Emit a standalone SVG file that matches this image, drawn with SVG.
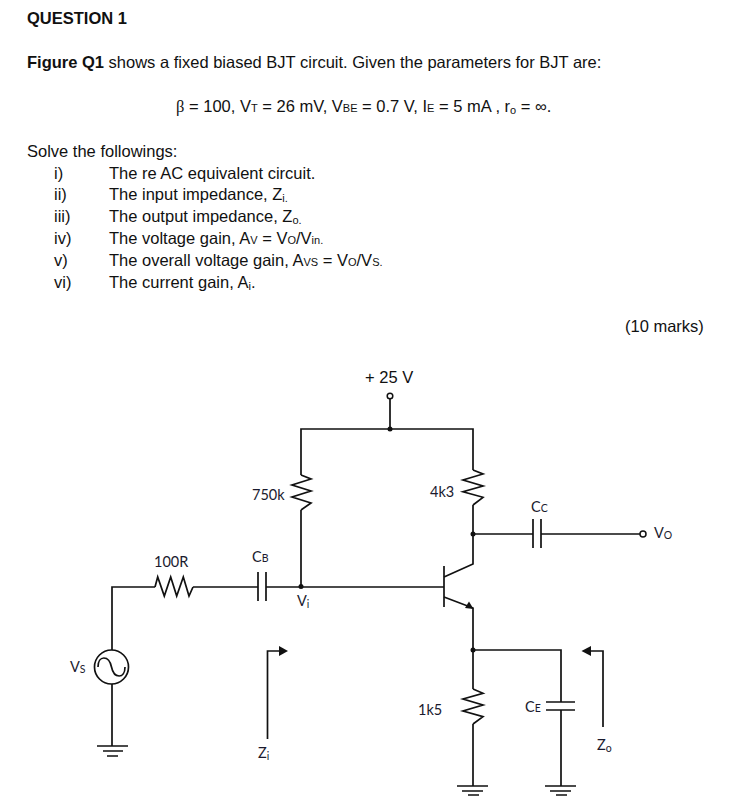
<svg xmlns="http://www.w3.org/2000/svg" width="736" height="810" viewBox="0 0 736 810">
<style>
text{font-family:"Liberation Sans",Arial,sans-serif;font-size:16.5px;fill:#111}
.b{font-weight:700}
.s{font-size:11px}
.c{font-family:"Lato","Noto Sans",sans-serif;font-size:14.5px;fill:#1a1a2e}
.c .s{font-size:10.5px}
.w{fill:none;stroke:#111;stroke-width:1.7;stroke-linejoin:miter}
.f{fill:#111;stroke:none}
.t{fill:#fff;stroke:#111;stroke-width:1.5}
</style>
<g id="question-text">
<text class="b" x="27" y="24">QUESTION 1</text>
<text x="27" y="68"><tspan class="b">Figure Q1</tspan> shows a fixed biased BJT circuit. Given the parameters for BJT are:</text>
<text x="176" y="112"><tspan font-family="'Liberation Serif',serif">β</tspan> = 100, V<tspan class="s">T</tspan> = 26 mV, V<tspan class="s">BE</tspan> = 0.7 V, I<tspan class="s">E</tspan> = 5 mA , r<tspan class="s" dy="1.500">o</tspan><tspan dy="-1.500"> = ∞.</tspan></text>
<text x="27" y="157">Solve the followings:</text>
<text x="54" y="179">i)</text><text x="109" y="179">The re AC equivalent circuit.</text>
<text x="54" y="200">ii)</text><text x="109" y="200">The input impedance, Z<tspan class="s" dy="1.500">i.</tspan></text>
<text x="54" y="222">iii)</text><text x="109" y="222">The output impedance, Z<tspan class="s" dy="1.500">o.</tspan></text>
<text x="54" y="244">iv)</text><text x="109" y="244">The voltage gain, A<tspan class="s">V</tspan> = V<tspan class="s">O</tspan>/V<tspan class="s">in.</tspan></text>
<text x="54" y="266">v)</text><text x="109" y="266">The overall voltage gain, A<tspan class="s">VS</tspan> = V<tspan class="s">O</tspan>/V<tspan class="s">S.</tspan></text>
<text x="54" y="288">vi)</text><text x="109" y="288">The current gain, A<tspan class="s" dy="1.500">i</tspan><tspan dy="-1.500">.</tspan></text>
<text x="625" y="332">(10 marks)</text>
<text x="365" y="383">+ 25 V</text>
</g>
<g id="connectors">
<path class="w" d="M112 667V587H155M193 587H258M266 587H444M112 667V746"/>
<path class="w" d="M301 587V510M301 475V429H473V470M390 396V429"/>
<path class="w" d="M473 505V564L444 577M444 597L473 608V689M473 724V786"/>
<path class="w" d="M473 534H533M541 534H640"/>
<path class="w" d="M473 650H561V702M561 710V786"/>
</g>
<g id="supply"><circle class="t" cx="390" cy="396" r="2.8"/><circle class="f" cx="390" cy="429" r="2.5"/></g>
<g id="source-vs">
<circle cx="111.500" cy="667" r="17" fill="#fff" stroke="#111" stroke-width="1.7"/>
<path class="w" d="M98 667C98 655 109 655 111.500 667C114 679 125 679 125 667"/>
<text class="c" x="70" y="672">V<tspan class="s" dy="1">S</tspan></text>
</g>
<g id="r-100"><path class="w" d="M155 587L157.700 577L164.300 596L170.700 577L176.700 596L183.300 577L189 596L193 587"/><text class="c" x="154" y="567">100R</text></g>
<g id="c-b"><path class="w" d="M258 572V601M266 572V601"/><text class="c" x="252" y="562">C<tspan class="s">B</tspan></text></g>
<g id="node-vi"><circle class="f" cx="301" cy="586.500" r="2.500"/><text class="c" x="297" y="606">V<tspan class="s" dy="1.500">i</tspan></text></g>
<g id="r-750k"><path class="w" d="M301 475L311 479L292 485L311 491L292 497L311 503L301 510"/><text class="c" x="252" y="500">750k</text></g>
<g id="r-4k3"><path class="w" d="M473 470L483 474L463 480L483 486L463 491.700L483 497.300L473 505"/><text class="c" x="430" y="497">4k3</text></g>
<g id="c-c"><path class="w" d="M533 519V548M541 519V548"/><circle class="f" cx="473" cy="534" r="2.500"/><text class="c" x="531" y="512">C<tspan class="s">C</tspan></text></g>
<g id="output-vo"><circle class="t" cx="643" cy="534" r="3"/><text class="c" x="654" y="538">V<tspan class="s" dy="1">O</tspan></text></g>
<g id="transistor"><path class="w" d="M444 566V607"/><path class="f" d="M473.500 609L465 608L469 601.500Z"/></g>
<g id="r-1k5"><path class="w" d="M473 689L483 693.300L463 699L483 705L463 711L483 716.700L473 724"/><circle class="f" cx="473" cy="650" r="2.500"/><text class="c" x="418" y="715">1k5</text></g>
<g id="gnd-1"><path class="w" d="M97 746H128M103 751H123M107 756H118"/></g>
<g id="gnd-2"><path class="w" d="M457 786H488M462 791H483M468 795H479"/></g>
<g id="gnd-3"><path class="w" d="M545 786H576M550 791H571M556 795H567"/></g>
<g id="c-e"><path class="w" d="M546 702H575M546 710H575"/><text class="c" x="525" y="712">C<tspan class="s">E</tspan></text></g>
<g id="zi"><path class="w" d="M267.500 739V651H280"/><path class="f" d="M288 651L279 646V656Z"/><text class="c" x="258" y="758">Z<tspan class="s" dy="1.500">i</tspan></text></g>
<g id="zo"><path class="w" d="M603 727V651H590"/><path class="f" d="M581.500 651L591 646V656Z"/><text class="c" x="597" y="750">Z<tspan class="s" dy="1.500">o</tspan></text></g>
</svg>
